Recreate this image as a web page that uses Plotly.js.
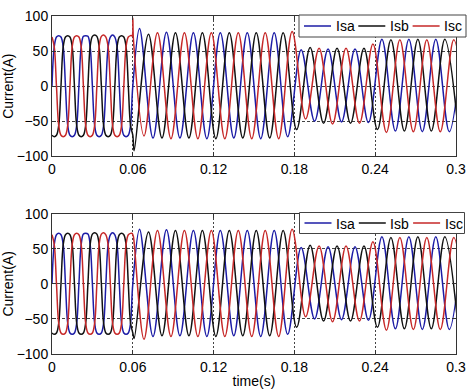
<!DOCTYPE html>
<html>
<head>
<meta charset="utf-8">
<script src="https://cdn.plot.ly/plotly-3.0.1.min.js"></script>
<style>html,body{margin:0;padding:0;background:#fff;}#chart{width:474px;height:392px;}</style>
</head>
<body>
<div id="chart"></div>
<script>
// ---- data ----
var xTickVals = [0, 0.06, 0.12, 0.18, 0.24, 0.3];
var xTickText = ['0', '0.06', '0.12', '0.18', '0.24', '0.3'];
var yTickVals = [-100, -50, 0, 50, 100];
var seriesNames = ['Isa', 'Isb', 'Isc'];

// 0 - 0.06 s: flat-topped stage, read every 1/12 cycle (shared times)
var tTrap = [0, 0.00167, 0.00333, 0.005, 0.00667, 0.00833, 0.01, 0.01167, 0.01333, 0.015, 0.01667, 0.01833,
  0.02, 0.02167, 0.02333, 0.025, 0.02667, 0.02833, 0.03, 0.03167, 0.03333, 0.035, 0.03667, 0.03833,
  0.04, 0.04167, 0.04333, 0.045, 0.04667, 0.04833, 0.05, 0.05167, 0.05333, 0.055, 0.05667, 0.05833];
var isaTrap = [0, 56, 70, 72, 70, 56, 0, -56, -70, -72, -70, -56,
  0, 56, 71, 72, 71, 56, 0, -56, -70, -72, -70, -56,
  0, 56, 70, 73, 70, 56, 0, -56, -70, -72, -70, -56];
var isbTrap = [-70, -72, -70, -56, 0, 56, 70, 72, 70, 56, 0, -56,
  -70, -72, -70, -56, 0, 56, 71, 73, 71, 56, 0, -56,
  -70, -72, -70, -56, 0, 56, 70, 72, 70, 56, 0, -56];
var iscTrap = [70, 56, 0, -56, -70, -72, -70, -56, 0, 56, 70, 72,
  70, 56, 0, -56, -70, -72, -70, -56, 0, 56, 71, 73,
  70, 56, 0, -56, -70, -72, -70, -56, 0, 56, 70, 72];

// 0.06 - 0.3 s: peaks and troughs of each phase
var tA = [0.06, 0.065, 0.075, 0.085, 0.095, 0.105, 0.115, 0.125, 0.135, 0.145, 0.155,
  0.165, 0.175, 0.185, 0.195, 0.205, 0.215, 0.225, 0.235, 0.245, 0.255, 0.265,
  0.275, 0.285, 0.295, 0.305];
var tB = [0.06, 0.061, 0.07167, 0.08167, 0.09167, 0.10167, 0.11167, 0.12167, 0.13167, 0.14167,
  0.15167, 0.16167, 0.17167, 0.18167, 0.19167, 0.20167, 0.21167, 0.22167, 0.23167, 0.24167,
  0.25167, 0.26167, 0.27167, 0.28167, 0.29167, 0.30167];
var tC = [0.0595, 0.06, 0.0605, 0.06833, 0.07833, 0.08833, 0.09833, 0.10833, 0.11833, 0.12833,
  0.13833, 0.14833, 0.15833, 0.16833, 0.17833, 0.18833, 0.19833, 0.20833, 0.21833, 0.22833,
  0.23833, 0.24833, 0.25833, 0.26833, 0.27833, 0.28833, 0.29833, 0.30833];

// upper plot (A)
var isaTop = [0, 82, -74, 77, -74, 76, -75, 76, -74, 76, -75, 76, -72,
  52, -50, 53, -51, 53, -52, 67, -64, 67, -65, 67, -65, 66];
var isbTop = [-70, -92, 74, -74, 76, -74, 76, -75, 76, -74, 76, -74, 76,
  -62, 55, -53, 54, -53, 54, -62, 66, -64, 67, -64, 67, -64];
var iscTop = [72, 97, 66, -71, 76, -75, 76, -75, 76, -75, 76, -75, 76, -75, 78,
  -47, 54, -54, 54, -53, 60, -66, 66, -65, 66, -65, 66, -65];

// lower plot (A)
var isaBot = [0, 78, -75, 77, -74, 76, -75, 76, -74, 76, -75, 76, -72,
  52, -50, 53, -51, 53, -52, 67, -64, 67, -65, 67, -65, 66];
var isbBot = [-70, -78, 74, -74, 76, -74, 76, -75, 76, -74, 76, -74, 76,
  -62, 55, -53, 54, -53, 54, -62, 66, -64, 67, -64, 67, -64];
var iscBot = [72, 70, 67, -79, 76, -75, 76, -75, 76, -75, 76, -75, 76, -75, 78,
  -47, 54, -54, 54, -53, 60, -66, 66, -65, 66, -65, 66, -65];

// ---- drawing ----
var W = 474, H = 392, M = {l: 52, r: 18, t: 16, b: 38};
var colors = ['#1c1ca6', '#111111', '#c62828'];
var trapVals = [isaTrap, isbTrap, iscTrap];
var restT = [tA, tB, tC];
var topVals = [isaTop, isbTop, iscTop];
var botVals = [isaBot, isbBot, iscBot];
var traces = [];
function addSet(vals, xa, ya) {
  for (var i = 0; i < 3; i++) {
    traces.push({x: tTrap.concat(restT[i]), y: trapVals[i].concat(vals[i]), name: seriesNames[i],
      type: 'scatter', mode: 'lines', showlegend: false,
      line: {color: colors[i], width: 1.5, shape: 'spline', smoothing: 1},
      xaxis: xa, yaxis: ya, hoverinfo: 'skip'});
  }
}
addSet(topVals, 'x', 'y');
addSet(botVals, 'x2', 'y2');

var fnt = {family: 'Liberation Sans, Arial, sans-serif', size: 14, color: '#000'};

// MATLAB-style boxed legend (pixel placement converted to paper units)
var pw = W - M.l - M.r, ph = H - M.t - M.b;
function px(x) { return (x - M.l) / pw; }
function py(y) { return (H - M.b - y) / ph; }
var shapes = [], annotations = [];
function legendBox(left, top, width, height) {
  shapes.push({type: 'rect', xref: 'paper', yref: 'paper', layer: 'above',
    x0: px(left), x1: px(left + width), y0: py(top + height), y1: py(top),
    fillcolor: '#fff', line: {color: '#444', width: 1}});
  var mid = top + height / 2;
  for (var i = 0; i < 3; i++) {
    var sx = left + 5 + 54.3 * i;
    shapes.push({type: 'line', xref: 'paper', yref: 'paper', layer: 'above',
      x0: px(sx), x1: px(sx + 27), y0: py(mid), y1: py(mid),
      line: {color: colors[i], width: 1.5}});
    annotations.push({xref: 'paper', yref: 'paper', x: px(sx + 29.5), y: py(mid + 0.5),
      xanchor: 'left', yanchor: 'middle', showarrow: false, text: seriesNames[i], font: fnt});
  }
}
legendBox(299, 15, 167, 22);
legendBox(299.5, 212.5, 165, 21);

function xax(anchor) {
  return {anchor: anchor, domain: [0, 1], range: [0, 0.3], tickvals: xTickVals, ticktext: xTickText,
    showline: true, linecolor: '#333', linewidth: 1, mirror: 'ticks', ticks: 'inside', ticklen: 4,
    tickcolor: '#333', showgrid: true, gridcolor: '#444', gridwidth: 1, griddash: '2px,2px',
    zeroline: false, tickfont: fnt, fixedrange: true};
}
function yax(anchor, dom) {
  return {anchor: anchor, domain: dom, range: [-100, 100], tickvals: yTickVals,
    showline: true, linecolor: '#333', linewidth: 1, mirror: 'ticks', ticks: 'inside', ticklen: 4,
    tickcolor: '#333', showgrid: true, gridcolor: '#444', gridwidth: 1, griddash: '3px,2px',
    zeroline: false, tickfont: fnt, fixedrange: true,
    title: {text: 'Current(A)', font: fnt, standoff: 1}};
}
var layout = {
  width: W, height: H,
  margin: M,
  paper_bgcolor: '#fff', plot_bgcolor: '#fff',
  showlegend: false,
  xaxis: xax('y'),
  yaxis: yax('x', [0.585, 1]),
  xaxis2: Object.assign(xax('y2'), {title: {text: 'time(s)', font: fnt, standoff: 2}}),
  yaxis2: yax('x2', [0, 0.415]),
  shapes: shapes,
  annotations: annotations
};
Plotly.newPlot('chart', traces, layout, {staticPlot: true, displayModeBar: false});
</script>
</body>
</html>
